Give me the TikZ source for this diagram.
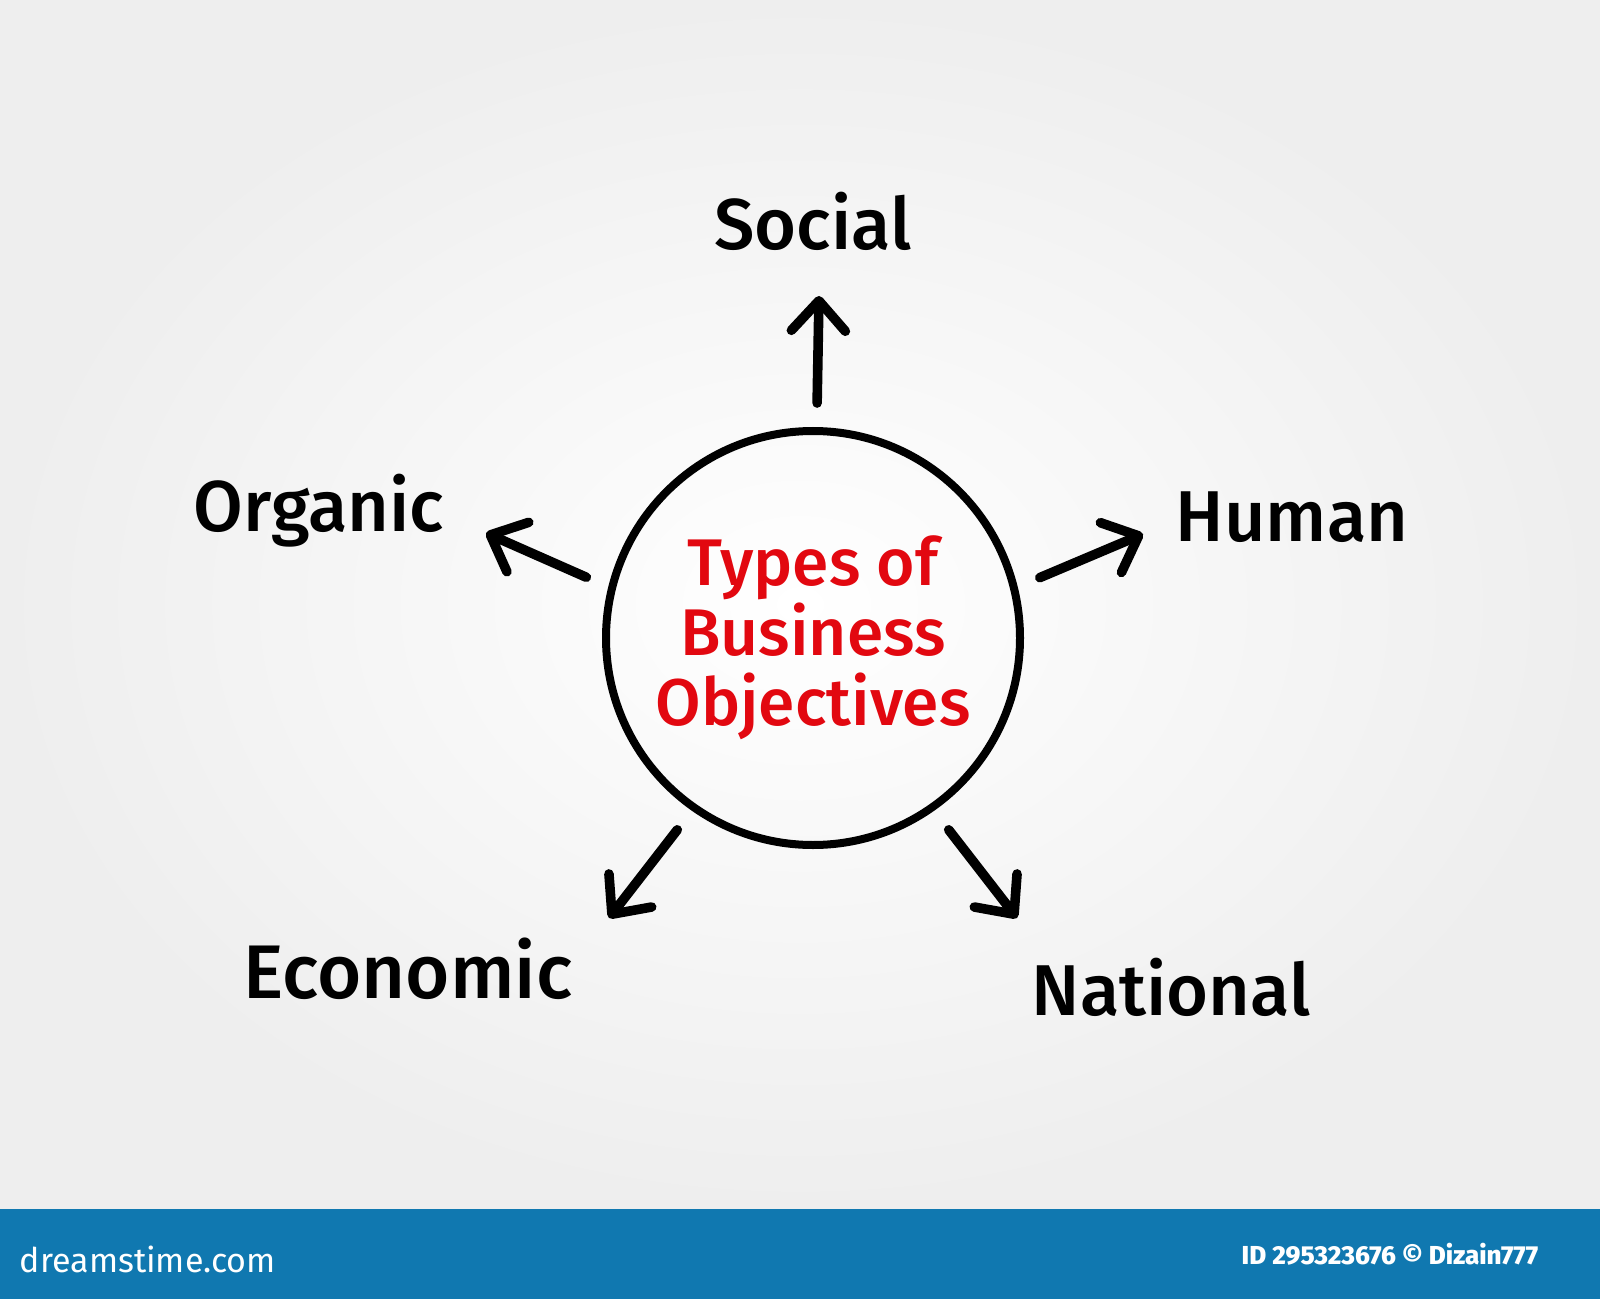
\documentclass[tikz,border=0pt]{standalone}
\usepackage{fontspec}
\setmainfont{Fira Sans Medium}
\newfontfamily\sitefont{Fira Sans}
\usetikzlibrary{arrows.meta}

\tikzset{
  lbl/.style={anchor=base, inner sep=0.75pt, font=\fontsize{36}{40}\selectfont},
  arr/.style={line width=4.8pt, line cap=round, shorten <=12pt,
    -{Straight Barb[length=15pt,width=27pt,line cap=round,round]}},
}

\begin{document}
\begin{tikzpicture}[x=0.5pt,y=0.5pt,yscale=-1]
  \useasboundingbox (0,0) rectangle (1600,1299);

  %Shape: Background
  \shade [inner color=white, outer color={rgb, 255:red, 238; green, 238; blue, 238 }] (0,0) rectangle (1600,1209);
  %Shape: Footer bar
  \fill [color={rgb, 255:red, 16; green, 120; blue, 176 }] (0,1209) rectangle (1600,1299);

  %Shape: Circle
  \node (hub) at (813,638) [circle, draw, line width=4pt, minimum size=207pt, inner sep=0pt, align=center,
    text={rgb, 255:red, 226; green, 8; blue, 16 }, font=\fontsize{33}{35}\selectfont] {Types of\\Business\\Objectives};

  % Text Node
  \node (social) at (813,250) [lbl] {Social};
  % Text Node
  \node (organic) at (319,531) [lbl] {Organic};
  % Text Node
  \node (human) at (1292,541) [lbl] {Human};
  % Text Node
  \node (economic) at (408,998) [lbl, font=\fontsize{38}{40}\selectfont] {Economic};
  % Text Node
  \node (national) at (1171,1015) [lbl] {National};

  \coordinate (socialtip) at (819,296);
  \coordinate (organictip) at (486,533);
  \coordinate (humantip) at (1143,534);
  \coordinate (economictip) at (609,918);
  \coordinate (nationaltip) at (1017,918);

  \draw [arr] (hub.89) -- (socialtip);
  \draw [arr] (hub.166) -- (organictip);
  \draw [arr] (hub.14) -- (humantip);
  \draw [arr] (hub.235) -- (economictip);
  \draw [arr] (hub.305) -- (nationaltip);

  % Text Node
  \node (site) at (18,1259) [anchor=west, inner sep=0.75pt, text=white, font=\sitefont\fontsize{17}{20}\selectfont] {dreamstime.com};
  % Text Node
  \node (credit) at (1540,1254) [anchor=east, inner sep=0.75pt, text=white, font=\bfseries\fontsize{13}{15}\selectfont] {ID 295323676 © Dizain777};
\end{tikzpicture}
\end{document}
